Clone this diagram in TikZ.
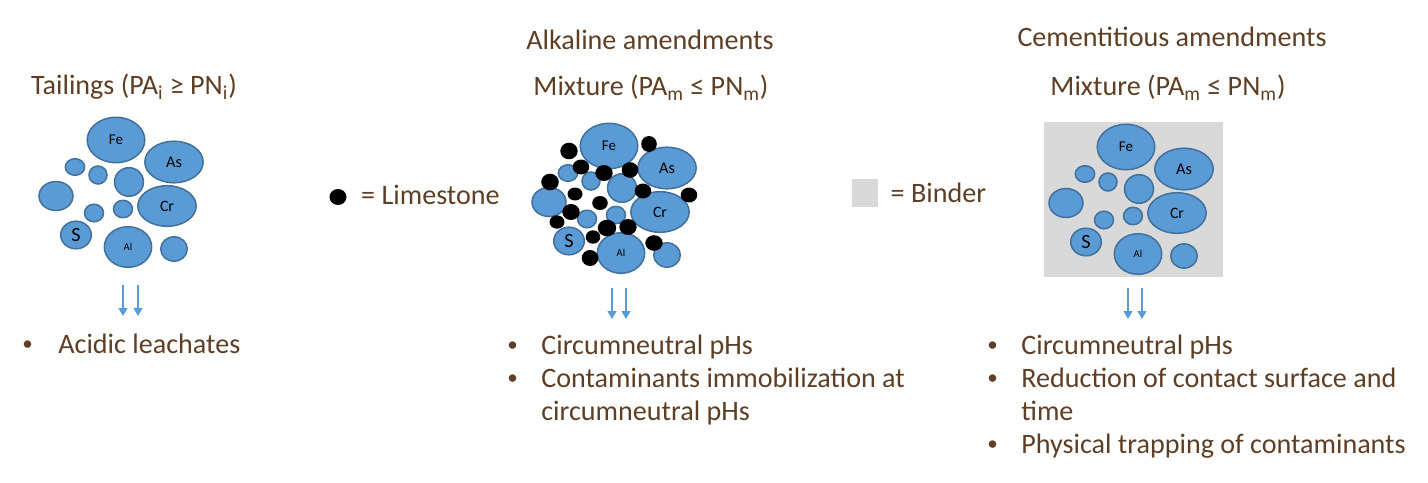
\documentclass[tikz,border=0pt]{standalone}
\usepackage{fontspec}
\setmainfont{Carlito}
\usetikzlibrary{arrows.meta,positioning,shapes.geometric}

\definecolor{grainblue}{RGB}{91,155,213}
\definecolor{grainedge}{RGB}{65,113,156}
\definecolor{textbrown}{RGB}{94,62,36}
\definecolor{bindergray}{RGB}{217,217,217}

% small list bullet
\newcommand\dotmark{\raisebox{0.08em}{\fontsize{12}{12}\selectfont\textbullet}}

% one heap of grains, same layout in every panel
\newcommand\drawgrains[1]{%
  \foreach \gx/\gy/\grx/\gry/\glab/\gsize [count=\k] in
    {116/140/28.8/22.7/Fe/8.5, 174/162/29.2/20.8/As/9.3, 75/167/9.7/8.3//8,
     98/175/9/9//8, 129/182/14.5/14.3//8, 56/196/17/14.5//8,
     94/213/9.5/8.8//8, 123/209/9.5/8.7//8, 167/206/29.2/20.3/Cr/9,
     76/235/15.3/13.8/S/11.5, 128/247/23.7/20.3/Al/6, 174/249/13.3/12.2//8}
    \node[grain,minimum width=\grx*0.04cm,minimum height=\gry*0.04cm,
          font=\fontsize{\gsize}{\gsize}\selectfont] (#1-\k) at (\gx,\gy) {\glab};
}

\begin{document}
\begin{tikzpicture}[x=0.02cm,y=-0.02cm,font=\fontsize{16}{18.8}\selectfont,text=textbrown,
                    >={Triangle[length=0.16cm,width=0.18cm]}]
  \tikzstyle{grain}=[ellipse,draw=grainedge,fill=grainblue,line width=0.03cm,inner sep=0pt,text=black]
  \tikzstyle{lime}=[ellipse,fill=black,inner sep=0pt]
  \tikzstyle{title}=[anchor=base,inner sep=0pt]
  \tikzstyle{bullets}=[anchor=base west,inner sep=0pt]
  \tikzstyle{flow}=[->,draw=grainblue,line width=0.025cm]
  \useasboundingbox (0,0) rectangle (1428,483);

  % tailings
  \node[title] (tail-title) at (134,95) {Tailings (PA\textsubscript{i} ≥ PN\textsubscript{i})};
  \drawgrains{tail}
  \coordinate (tail-a1) at (123,285); \coordinate (tail-b1) at (123,316);
  \coordinate (tail-a2) at (138,285); \coordinate (tail-b2) at (138,316);
  \draw[flow] (tail-a1) -- (tail-b1);
  \draw[flow] (tail-a2) -- (tail-b2);
  \node[bullets] (tail-out) at (22,353)
    {\begin{tabular}[t]{@{}p{0.72cm}@{}l@{}}\dotmark & Acidic leachates\end{tabular}};

  % limestone key
  \node[lime,minimum width=0.34cm,minimum height=0.32cm] (lime-key) at (338,197) {};
  \node[right=0.28cm of lime-key,inner sep=0pt,yshift=0.04cm] (lime-text) {= Limestone};

  % alkaline amendments
  \node[title] (alk-title) at (650,50) {Alkaline amendments};
  \node[title] (alk-mix) at (651,96) {Mixture (PA\textsubscript{m} ≤ PN\textsubscript{m})};
  \begin{scope}[shift={(493,6)}]
    \drawgrains{alk}
  \end{scope}
  \foreach \lx/\ly/\lrx/\lry [count=\k] in
    {569/151/8.7/8.3, 649/144/7.8/8, 581/167/8.3/7.5, 604/173/8.7/8,
     630/170/8.3/7.8, 550/182/8.8/8.3, 575/194/7.5/6.5, 643/191/8.3/7.5,
     689/195/8.3/7.5, 600/203/7.8/7, 571/212/8.7/8, 557/222/7.5/6.7,
     607/228/9.2/8.3, 628/227/8.7/8, 593/237/7.3/6.7, 654/243/8.7/7.8,
     590/258/8.3/8}
    \node[lime,minimum width=\lrx*0.04cm,minimum height=\lry*0.04cm] (lime-\k) at (\lx,\ly) {};
  \coordinate (alk-a1) at (612,288); \coordinate (alk-b1) at (612,319);
  \coordinate (alk-a2) at (626,288); \coordinate (alk-b2) at (626,319);
  \draw[flow] (alk-a1) -- (alk-b1);
  \draw[flow] (alk-a2) -- (alk-b2);
  \node[bullets] (alk-out) at (507,354)
    {\begin{tabular}[t]{@{}p{0.68cm}@{}l@{}}\dotmark & Circumneutral pHs\\
      \dotmark & Contaminants immobilization at\\
      & circumneutral pHs\end{tabular}};

  % binder key
  \node[fill=bindergray,minimum width=0.52cm,minimum height=0.56cm,inner sep=0pt] (binder-key) at (865,193) {};
  \node[right=0.24cm of binder-key,inner sep=0pt] (binder-text) {= Binder};

  % cementitious amendments
  \node[title] (cem-title) at (1172,47) {Cementitious amendments};
  \node[title] (cem-mix) at (1168,96) {Mixture (PA\textsubscript{m} ≤ PN\textsubscript{m})};
  \node[fill=bindergray,minimum width=3.58cm,minimum height=3.1cm,inner sep=0pt,anchor=north west] (binder) at (1044,122) {};
  \begin{scope}[shift={(1010,7)}]
    \drawgrains{cem}
  \end{scope}
  \coordinate (cem-a1) at (1128,288); \coordinate (cem-b1) at (1128,319);
  \coordinate (cem-a2) at (1142,288); \coordinate (cem-b2) at (1142,319);
  \draw[flow] (cem-a1) -- (cem-b1);
  \draw[flow] (cem-a2) -- (cem-b2);
  \node[bullets] (cem-out) at (987,354)
    {\begin{tabular}[t]{@{}p{0.68cm}@{}l@{}}\dotmark & Circumneutral pHs\\
      \dotmark & Reduction of contact surface and\\
      & time\\
      \dotmark & Physical trapping of contaminants\end{tabular}};
\end{tikzpicture}
\end{document}
